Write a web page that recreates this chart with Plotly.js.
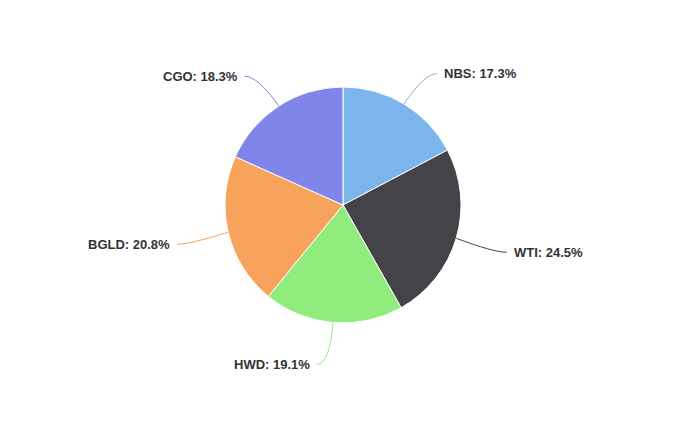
<!DOCTYPE html>
<html>
<head>
<meta charset="utf-8">
<script src="https://cdn.plot.ly/plotly-3.0.1.min.js"></script>
<style>html,body{margin:0;padding:0;background:#fff;}#chart{width:693px;height:429px;}</style>
</head>
<body>
<div id="chart"></div>
<script>
const categories = ["NBS", "WTI", "HWD", "BGLD", "CGO"];
const values = [17.3, 24.5, 19.1, 20.8, 18.3];
const colors = ["#7cb5ec", "#434348", "#90ed7d", "#f7a35c", "#8085e9"];

const W = 693, H = 429;
const cx = 343, cy = 205, R = 118;
const domX = [(cx - R) / W, (cx + R) / W];
const domY = [(H - cy - R) / H, (H - cy + R) / H];

const total = values.reduce((a, b) => a + b, 0);
const shapes = [];
const annotations = [];
let cum = 0;
values.forEach((v, i) => {
  const mid = (cum + v / 2) / total * 2 * Math.PI;
  cum += v;
  const s = Math.sin(mid), c = Math.cos(mid);
  const x0 = cx + R * s, y0 = cy - R * c;
  const d = 39;
  const x1 = cx + (R + d) * s, y1 = cy - (R + d) * c + 3;
  const dir = s >= 0 ? 1 : -1;
  const x2 = x1 + dir * 13;
  const px = x => x / W, py = y => 1 - y / H;
  shapes.push({
    type: "path", xref: "paper", yref: "paper",
    path: `M ${px(x0)} ${py(y0)} Q ${px(x1)} ${py(y1)} ${px(x2)} ${py(y1)}`,
    line: {color: colors[i], width: 1}
  });
  annotations.push({
    xref: "paper", yref: "paper",
    x: px(x2 + dir * 5), y: py(y1),
    xanchor: dir > 0 ? "left" : "right", yanchor: "middle",
    showarrow: false,
    text: "<b>" + categories[i] + ": " + (v / total * 100).toFixed(1) + "%</b>",
    font: {family: "Liberation Sans, Arial, sans-serif", size: 13, color: "#333333"}
  });
});

const data = [{
  type: "pie",
  labels: categories,
  values: values,
  sort: false,
  direction: "clockwise",
  rotation: 0,
  textinfo: "none",
  hoverinfo: "label+percent",
  marker: {colors: colors, line: {color: "#ffffff", width: 1}},
  domain: {x: domX, y: domY}
}];

const layout = {
  width: W, height: H,
  margin: {l: 0, r: 0, t: 0, b: 0},
  paper_bgcolor: "#ffffff",
  showlegend: false,
  shapes: shapes,
  annotations: annotations
};

Plotly.newPlot("chart", data, layout, {displayModeBar: false, staticPlot: true});
</script>
</body>
</html>
